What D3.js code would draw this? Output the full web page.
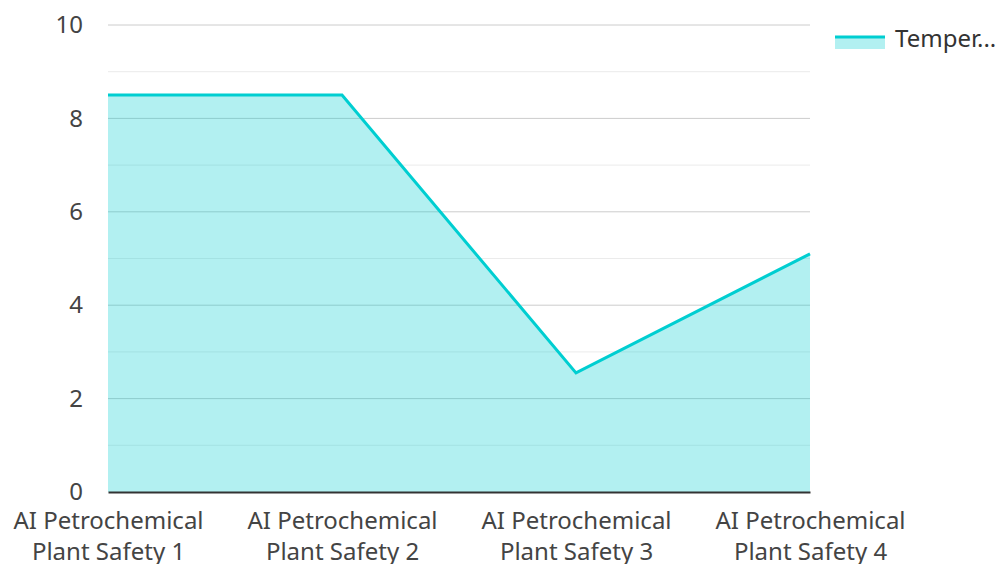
<!DOCTYPE html>
<html>
<head>
<meta charset="utf-8">
<script src="https://cdn.jsdelivr.net/npm/d3@7"></script>
<style>
  body { margin: 0; background: #fff; font-family: "Noto Sans", "Open Sans", sans-serif; }
  .tick text { fill: #444; }
</style>
</head>
<body>
<div id="chart"></div>
<script>
// data
const categories = ["AI Petrochemical Plant Safety 1", "AI Petrochemical Plant Safety 2",
                    "AI Petrochemical Plant Safety 3", "AI Petrochemical Plant Safety 4"];
const temperature = [8.5, 8.5, 2.55, 5.1];
const seriesName = "Temper...";
const yTicks = [0, 2, 4, 6, 8, 10];

const W = 997, H = 564;
const margin = { top: 25, right: 187, bottom: 72, left: 108 };
const width = W - margin.left - margin.right,
      height = H - margin.top - margin.bottom;

const svg = d3.select("#chart").append("svg")
    .attr("width", W)
    .attr("height", H);

const g = svg.append("g")
    .attr("transform", "translate(" + margin.left + "," + margin.top + ")");

const x = d3.scalePoint()
    .domain(categories)
    .range([0, width]);

const y = d3.scaleLinear()
    .domain([0, 10])
    .range([height, 0]);

// minor grid
g.append("g")
    .selectAll("line")
    .data(d3.range(1, 10, 2))
    .join("line")
    .attr("x1", 0).attr("x2", width)
    .attr("y1", d => y(d)).attr("y2", d => y(d))
    .attr("stroke", "#ebebeb")
    .attr("stroke-width", 1);

// major grid
g.append("g")
    .selectAll("line")
    .data(yTicks.slice(1))
    .join("line")
    .attr("x1", 0).attr("x2", width)
    .attr("y1", d => y(d)).attr("y2", d => y(d))
    .attr("stroke", "#cccccc")
    .attr("stroke-width", 1);

const area = d3.area()
    .x((d, i) => x(categories[i]))
    .y0(height)
    .y1(d => y(d));

const line = d3.line()
    .x((d, i) => x(categories[i]))
    .y(d => y(d));

g.append("path")
    .datum(temperature)
    .attr("d", area)
    .attr("fill", "rgba(0,206,209,0.3)");

g.append("path")
    .datum(temperature)
    .attr("d", line)
    .attr("fill", "none")
    .attr("stroke", "#00CED1")
    .attr("stroke-width", 3);

// y axis
const yAxis = d3.axisLeft(y).tickValues(yTicks).tickSize(0).tickPadding(25);
g.append("g")
    .attr("class", "y-axis")
    .call(yAxis)
    .call(s => s.select(".domain").remove())
    .selectAll("text")
    .style("font-size", "24px")
    .style("font-family", "'Noto Sans', sans-serif");

// x axis
const xAxis = d3.axisBottom(x).tickSize(0).tickPadding(0);
const xg = g.append("g")
    .attr("class", "x-axis")
    .attr("transform", "translate(0," + height + ")")
    .call(xAxis);
xg.select(".domain").attr("stroke", "#333").attr("stroke-width", 2);
xg.selectAll(".tick text").each(function (d) {
    const t = d3.select(this).text(null)
        .style("font-size", "24px")
        .style("font-family", "'Noto Sans', sans-serif")
        .attr("dy", null)
        .attr("y", 0);
    const words = d.split(" ");
    t.append("tspan").attr("x", 0).attr("y", 37).text(words.slice(0, 2).join(" "));
    t.append("tspan").attr("x", 0).attr("y", 68).text(words.slice(2).join(" "));
});

// legend
const lg = svg.append("g").attr("transform", "translate(835,37)");
lg.append("rect")
    .attr("x", 0).attr("y", 0)
    .attr("width", 50).attr("height", 12)
    .attr("fill", "rgba(0,206,209,0.3)");
lg.append("line")
    .attr("x1", 0).attr("x2", 50)
    .attr("y1", 0).attr("y2", 0)
    .attr("stroke", "#00CED1")
    .attr("stroke-width", 3);
lg.append("text")
    .attr("x", 60).attr("y", 10)
    .style("font-size", "24px")
    .style("font-family", "'Noto Sans', sans-serif")
    .attr("fill", "#333")
    .text(seriesName);
</script>
</body>
</html>
